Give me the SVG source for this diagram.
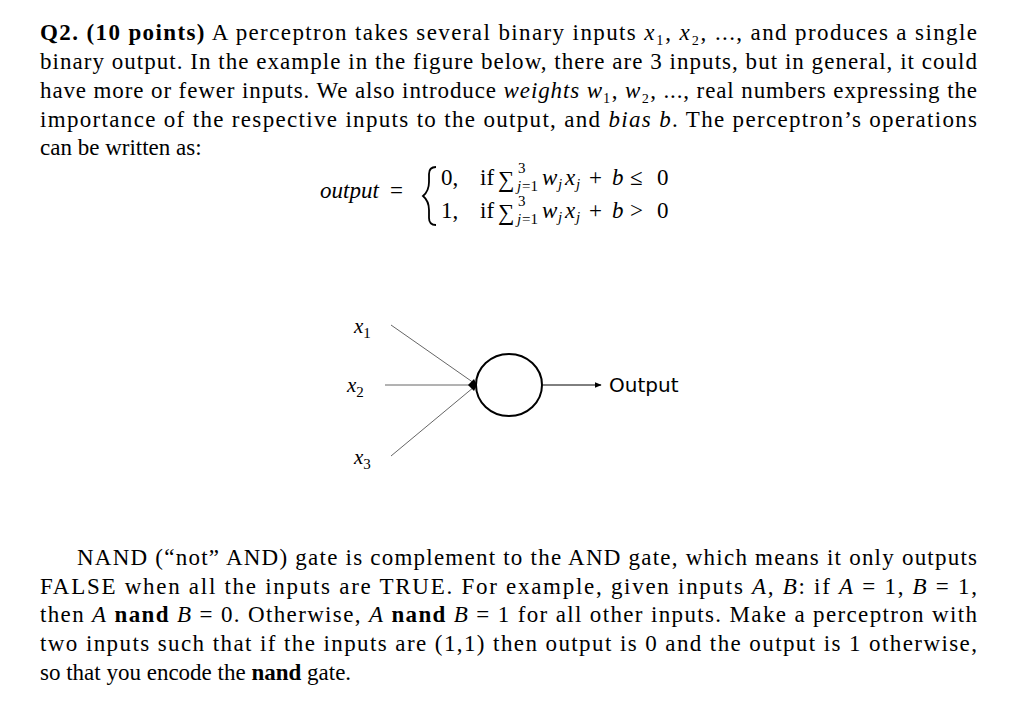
<svg xmlns="http://www.w3.org/2000/svg" width="1026" height="715" viewBox="0 0 1026 715">
<style>
.t{font-family:"Liberation Serif",serif;font-size:23px;fill:#000}
.i{font-style:italic}
.b{font-weight:bold}
.s{font-family:"DejaVu Sans","Liberation Sans",sans-serif;font-size:20px;fill:#000}
.m{font-family:"Liberation Serif",serif;font-size:21px;fill:#000}
.sm{font-size:15px}
</style>
<defs><marker id="ar" viewBox="0 0 10 10" refX="9" refY="5" markerWidth="7" markerHeight="7" orient="auto"><path d="M0,1 L10,5 L0,9 z" fill="#000"/></marker></defs>
<rect width="1026" height="715" fill="#fff"/>
<g id="text">
<text class="t" x="40" y="40" textLength="937" lengthAdjust="spacing"><tspan class="b">Q2. (10 points)</tspan>  A perceptron takes several binary inputs <tspan class="i">x</tspan>₁, <tspan class="i">x</tspan>₂, ..., and produces a single</text>
<text class="t" x="40" y="69" textLength="937" lengthAdjust="spacing">binary output. In the example in the figure below, there are 3 inputs, but in general, it could</text>
<text class="t" x="40" y="98" textLength="937" lengthAdjust="spacing">have more or fewer inputs. We also introduce <tspan class="i">weights w</tspan>₁, <tspan class="i">w</tspan>₂, ..., real numbers expressing the</text>
<text class="t" x="40" y="127" textLength="937" lengthAdjust="spacing">importance of the respective inputs to the output, and <tspan class="i">bias b</tspan>. The perceptron’s operations</text>
<text class="t" x="40" y="155">can be written as:</text>
<text class="t" x="77" y="565" textLength="900" lengthAdjust="spacing">NAND (“not” AND) gate is complement to the AND gate, which means it only outputs</text>
<text class="t" x="40" y="594" textLength="937" lengthAdjust="spacing">FALSE when all the inputs are TRUE. For example, given inputs <tspan class="i">A, B</tspan>: if <tspan class="i">A</tspan> = 1, <tspan class="i">B</tspan> = 1,</text>
<text class="t" x="40" y="622" textLength="937" lengthAdjust="spacing">then <tspan class="i">A</tspan> <tspan class="b">nand</tspan> <tspan class="i">B</tspan> = 0. Otherwise, <tspan class="i">A</tspan> <tspan class="b">nand</tspan> <tspan class="i">B</tspan> = 1 for all other inputs. Make a perceptron with</text>
<text class="t" x="40" y="651" textLength="937" lengthAdjust="spacing">two inputs such that if the inputs are (1,1) then output is 0 and the output is 1 otherwise,</text>
<text class="t" x="40" y="680">so that you encode the <tspan class="b">nand</tspan> gate.</text>
</g>
<g id="formula">
<text class="t" x="320" y="198"><tspan class="i">output</tspan> <tspan x="390">=</tspan></text>
<path d="M436,167 q-7,0 -7,7 v8 q0,9 -6,14 q6,5 6,14 v8 q0,7 7,7" fill="none" stroke="#000" stroke-width="1.8"/>
<g>
<text class="t" x="441" y="185">0,</text>
<text class="t" x="480" y="185">if</text>
<text class="t" x="498" y="187" font-size="26">∑</text>
<text class="t sm" x="518" y="173">3</text>
<text class="t sm i" x="517" y="191">j</text><text class="t sm" x="522" y="191">=1</text>
<text class="t i" x="542" y="185">w</text><text class="t sm i" x="558" y="189">j</text>
<text class="t i" x="565" y="185">x</text><text class="t sm i" x="576" y="189">j</text>
<text class="t" x="589" y="185">+</text>
<text class="t i" x="612" y="185">b</text>
<text class="t" x="630" y="185">≤</text>
<text class="t" x="657" y="185">0</text>
</g>
<g>
<text class="t" x="441" y="218">1,</text>
<text class="t" x="480" y="218">if</text>
<text class="t" x="498" y="220" font-size="26">∑</text>
<text class="t sm" x="518" y="206">3</text>
<text class="t sm i" x="517" y="224">j</text><text class="t sm" x="522" y="224">=1</text>
<text class="t i" x="542" y="218">w</text><text class="t sm i" x="558" y="222">j</text>
<text class="t i" x="565" y="218">x</text><text class="t sm i" x="576" y="222">j</text>
<text class="t" x="589" y="218">+</text>
<text class="t i" x="612" y="218">b</text>
<text class="t" x="630" y="218">&gt;</text>
<text class="t" x="657" y="218">0</text>
</g>
</g>
<g id="connectors" stroke="#666" stroke-width="1" fill="none">
<line x1="391" y1="325" x2="474" y2="383"/>
<line x1="385" y1="385" x2="474" y2="385"/>
<line x1="391" y1="456" x2="474" y2="387"/>
<line x1="543" y1="385" x2="601" y2="385" stroke="#000" marker-end="url(#ar)"/>
<path d="M468,385 l6,-6 l3,6 l-3,6 z" fill="#000" stroke="none"/>
</g>
<g id="neuron"><ellipse cx="509" cy="385" rx="33" ry="31" fill="#fff" stroke="#000" stroke-width="2"/></g>
<g id="labels">
<text class="m" x="354" y="333" font-style="italic">x<tspan font-size="15" dy="5" font-style="normal">1</tspan></text>
<text class="m" x="347" y="392" font-style="italic">x<tspan font-size="15" dy="5" font-style="normal">2</tspan></text>
<text class="m" x="354" y="464" font-style="italic">x<tspan font-size="15" dy="5" font-style="normal">3</tspan></text>
<text class="s" x="609" y="392">Output</text>
</g>
</svg>
